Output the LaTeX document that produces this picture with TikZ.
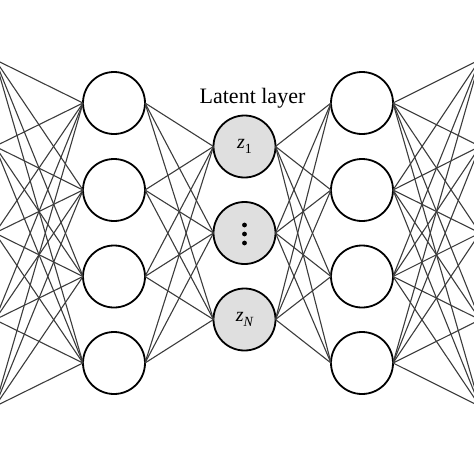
\documentclass[tikz,border=0pt]{standalone}
\usepackage{fontspec}
\setmainfont{Liberation Serif}
\begin{document}
\begin{tikzpicture}[x=1pt,y=-1pt,
  neuron/.style={circle,draw=black,line width=1.8pt,minimum size=62pt,inner sep=0pt,outer sep=0pt,fill=white},
  latent/.style={neuron,fill=latentgray},
  link/.style={draw=linkgray,line width=1.1pt},
  dotmark/.style={circle,fill=black,inner sep=0pt,minimum size=4.8pt}]
\definecolor{latentgray}{HTML}{DFDFDF}
\definecolor{linkgray}{HTML}{3C3C3C}
\useasboundingbox (0,0) rectangle (474,474);
\clip (0,0) rectangle (474,474);
% outer (cropped) layers
\foreach \i/\y in {0/59.6,1/146.3,2/233,3/319.7,4/406.4}{
  \coordinate (in\i) at (-5,\y);
  \coordinate (out\i) at (480,\y);
}
% hidden layers
\foreach \i/\y in {0/103,1/190,2/276.5,3/363}{
  \node[neuron] (hl\i) at (114,\y) {};
  \node[neuron] (hr\i) at (362,\y) {};
}
% latent layer
\node[latent] (z0) at (244.5,146.5) {\fontsize{20}{20}\selectfont\itshape z\raisebox{-0.5ex}{\fontsize{14}{14}\selectfont\upshape 1}};
\node[latent] (z1) at (244.5,233) {};
\node[latent] (z2) at (244.5,319.5) {\fontsize{20}{20}\selectfont\itshape z\raisebox{-0.5ex}{\fontsize{14}{14}\selectfont N}};
\node[dotmark] (d0) at (244.5,225) {};
\node[dotmark] (d1) at (244.5,234) {};
\node[dotmark] (d2) at (244.5,243) {};
\node[anchor=base,inner sep=0pt] (title) at (252.5,103) {\fontsize{22}{22}\selectfont Latent layer};
% connections
\foreach \i in {0,...,4}{
  \foreach \j in {0,...,3}{
    \draw[link] (in\i) -- (hl\j.west);
    \draw[link] (hr\j.east) -- (out\i);
  }
}
\foreach \j in {0,...,3}{
  \foreach \k in {0,...,2}{
    \draw[link] (hl\j.east) -- (z\k.west);
    \draw[link] (z\k.east) -- (hr\j.west);
  }
}
\end{tikzpicture}
\end{document}
